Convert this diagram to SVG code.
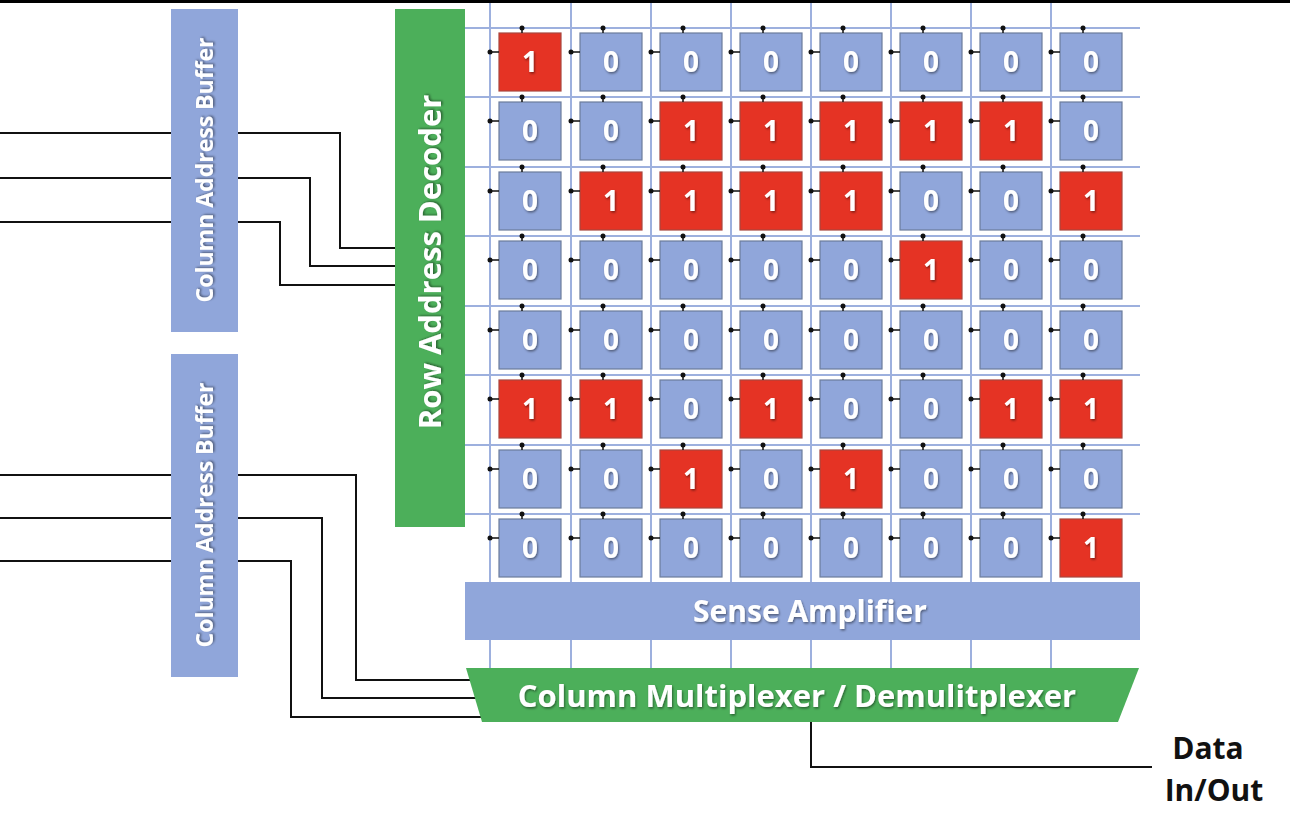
<svg xmlns="http://www.w3.org/2000/svg" width="1290" height="822" viewBox="0 0 1290 822">
<defs>
<filter id="sh" x="-20%" y="-20%" width="140%" height="140%"><feDropShadow dx="1" dy="1.5" stdDeviation="0.8" flood-color="#000" flood-opacity="0.45"/></filter>
</defs>
<style>
.g{stroke:#9db0de;stroke-width:2;fill:none}
.w{stroke:#111;stroke-width:2;fill:none}
.k{stroke:#111;stroke-width:1.5}
.b{fill:#90a6da;stroke:#6c7c9c;stroke-width:1.2}
.r{fill:#e53324;stroke:#a8463e;stroke-width:1.2}
.t{font-family:"Open Sans","Noto Sans",sans-serif;font-weight:bold;fill:#fff;filter:url(#sh)}
.n{font-size:28px;text-anchor:middle}
.d{fill:#111}
</style>
<rect width="1290" height="822" fill="#fff"/>
<rect width="1290" height="3" fill="#000"/>
<g id="grid">
<path class="g" d="M490 3V668M571 3V668M651 3V668M731 3V668M811 3V668M891 3V668M971 3V668M1051 3V668"/>
<path class="g" d="M465 28H1140M465 97H1140M465 167H1140M465 236H1140M465 306H1140M465 375H1140M465 445H1140M465 514H1140"/>
</g>
<g id="connectors">
<path class="w" d="M0 133H171M238 133H340V248H395M0 178H171M238 178H310V266H395M0 222H171M238 222H280V285H395"/>
<path class="w" d="M0 475H171M238 475H356V680H472M0 518H171M238 518H322V698H477M0 561H171M238 561H291V717H481"/>
<path class="w" d="M811 722V767H1152"/>
</g>
<g id="col-buffer-1"><rect x="171" y="9" width="67" height="323" fill="#90a6da"/><text class="t" font-size="23" transform="translate(213 170) rotate(-90)" text-anchor="middle">Column Address Buffer</text></g>
<g id="col-buffer-2"><rect x="171" y="354" width="67" height="323" fill="#90a6da"/><text class="t" font-size="23" transform="translate(213 515) rotate(-90)" text-anchor="middle">Column Address Buffer</text></g>
<g id="row-decoder"><rect x="395" y="9" width="70" height="518" fill="#4caf5a"/><text class="t" font-size="31" transform="translate(441 262) rotate(-90)" text-anchor="middle">Row Address Decoder</text></g>
<g id="sense-amplifier"><rect x="465" y="582" width="675" height="58" fill="#90a6da"/><text class="t" font-size="30" x="810" y="622" text-anchor="middle">Sense Amplifier</text></g>
<g id="column-mux"><polygon points="466,668 1139,668 1118,722 482,722" fill="#4caf5a"/><text class="t" font-size="31" x="797" y="707" text-anchor="middle">Column Multiplexer / Demulitplexer</text></g>
<g id="data-io" font-family="'Open Sans','Noto Sans',sans-serif" font-weight="bold" font-size="30" fill="#111" text-anchor="middle"><text x="1208" y="759">Data</text><text x="1214" y="801">In/Out</text></g>
<g id="cells">
<g id="r1">
<g transform="translate(490 28)"><rect class="r" x="9" y="5" width="62" height="58"/><path class="k" d="M32 0V5M0 24H9"/><circle class="d" cx="32" cy="0" r="2.5"/><circle class="d" cx="0" cy="24" r="2.5"/><text class="t n" x="40" y="44">1</text></g>
<g transform="translate(571 28)"><rect class="b" x="9" y="5" width="62" height="58"/><path class="k" d="M32 0V5M0 24H9"/><circle class="d" cx="32" cy="0" r="2.5"/><circle class="d" cx="0" cy="24" r="2.5"/><text class="t n" x="40" y="44">0</text></g>
<g transform="translate(651 28)"><rect class="b" x="9" y="5" width="62" height="58"/><path class="k" d="M32 0V5M0 24H9"/><circle class="d" cx="32" cy="0" r="2.5"/><circle class="d" cx="0" cy="24" r="2.5"/><text class="t n" x="40" y="44">0</text></g>
<g transform="translate(731 28)"><rect class="b" x="9" y="5" width="62" height="58"/><path class="k" d="M32 0V5M0 24H9"/><circle class="d" cx="32" cy="0" r="2.5"/><circle class="d" cx="0" cy="24" r="2.5"/><text class="t n" x="40" y="44">0</text></g>
<g transform="translate(811 28)"><rect class="b" x="9" y="5" width="62" height="58"/><path class="k" d="M32 0V5M0 24H9"/><circle class="d" cx="32" cy="0" r="2.5"/><circle class="d" cx="0" cy="24" r="2.5"/><text class="t n" x="40" y="44">0</text></g>
<g transform="translate(891 28)"><rect class="b" x="9" y="5" width="62" height="58"/><path class="k" d="M32 0V5M0 24H9"/><circle class="d" cx="32" cy="0" r="2.5"/><circle class="d" cx="0" cy="24" r="2.5"/><text class="t n" x="40" y="44">0</text></g>
<g transform="translate(971 28)"><rect class="b" x="9" y="5" width="62" height="58"/><path class="k" d="M32 0V5M0 24H9"/><circle class="d" cx="32" cy="0" r="2.5"/><circle class="d" cx="0" cy="24" r="2.5"/><text class="t n" x="40" y="44">0</text></g>
<g transform="translate(1051 28)"><rect class="b" x="9" y="5" width="62" height="58"/><path class="k" d="M32 0V5M0 24H9"/><circle class="d" cx="32" cy="0" r="2.5"/><circle class="d" cx="0" cy="24" r="2.5"/><text class="t n" x="40" y="44">0</text></g>
</g>
<g id="r2">
<g transform="translate(490 97)"><rect class="b" x="9" y="5" width="62" height="58"/><path class="k" d="M32 0V5M0 24H9"/><circle class="d" cx="32" cy="0" r="2.5"/><circle class="d" cx="0" cy="24" r="2.5"/><text class="t n" x="40" y="44">0</text></g>
<g transform="translate(571 97)"><rect class="b" x="9" y="5" width="62" height="58"/><path class="k" d="M32 0V5M0 24H9"/><circle class="d" cx="32" cy="0" r="2.5"/><circle class="d" cx="0" cy="24" r="2.5"/><text class="t n" x="40" y="44">0</text></g>
<g transform="translate(651 97)"><rect class="r" x="9" y="5" width="62" height="58"/><path class="k" d="M32 0V5M0 24H9"/><circle class="d" cx="32" cy="0" r="2.5"/><circle class="d" cx="0" cy="24" r="2.5"/><text class="t n" x="40" y="44">1</text></g>
<g transform="translate(731 97)"><rect class="r" x="9" y="5" width="62" height="58"/><path class="k" d="M32 0V5M0 24H9"/><circle class="d" cx="32" cy="0" r="2.5"/><circle class="d" cx="0" cy="24" r="2.5"/><text class="t n" x="40" y="44">1</text></g>
<g transform="translate(811 97)"><rect class="r" x="9" y="5" width="62" height="58"/><path class="k" d="M32 0V5M0 24H9"/><circle class="d" cx="32" cy="0" r="2.5"/><circle class="d" cx="0" cy="24" r="2.5"/><text class="t n" x="40" y="44">1</text></g>
<g transform="translate(891 97)"><rect class="r" x="9" y="5" width="62" height="58"/><path class="k" d="M32 0V5M0 24H9"/><circle class="d" cx="32" cy="0" r="2.5"/><circle class="d" cx="0" cy="24" r="2.5"/><text class="t n" x="40" y="44">1</text></g>
<g transform="translate(971 97)"><rect class="r" x="9" y="5" width="62" height="58"/><path class="k" d="M32 0V5M0 24H9"/><circle class="d" cx="32" cy="0" r="2.5"/><circle class="d" cx="0" cy="24" r="2.5"/><text class="t n" x="40" y="44">1</text></g>
<g transform="translate(1051 97)"><rect class="b" x="9" y="5" width="62" height="58"/><path class="k" d="M32 0V5M0 24H9"/><circle class="d" cx="32" cy="0" r="2.5"/><circle class="d" cx="0" cy="24" r="2.5"/><text class="t n" x="40" y="44">0</text></g>
</g>
<g id="r3">
<g transform="translate(490 167)"><rect class="b" x="9" y="5" width="62" height="58"/><path class="k" d="M32 0V5M0 24H9"/><circle class="d" cx="32" cy="0" r="2.5"/><circle class="d" cx="0" cy="24" r="2.5"/><text class="t n" x="40" y="44">0</text></g>
<g transform="translate(571 167)"><rect class="r" x="9" y="5" width="62" height="58"/><path class="k" d="M32 0V5M0 24H9"/><circle class="d" cx="32" cy="0" r="2.5"/><circle class="d" cx="0" cy="24" r="2.5"/><text class="t n" x="40" y="44">1</text></g>
<g transform="translate(651 167)"><rect class="r" x="9" y="5" width="62" height="58"/><path class="k" d="M32 0V5M0 24H9"/><circle class="d" cx="32" cy="0" r="2.5"/><circle class="d" cx="0" cy="24" r="2.5"/><text class="t n" x="40" y="44">1</text></g>
<g transform="translate(731 167)"><rect class="r" x="9" y="5" width="62" height="58"/><path class="k" d="M32 0V5M0 24H9"/><circle class="d" cx="32" cy="0" r="2.5"/><circle class="d" cx="0" cy="24" r="2.5"/><text class="t n" x="40" y="44">1</text></g>
<g transform="translate(811 167)"><rect class="r" x="9" y="5" width="62" height="58"/><path class="k" d="M32 0V5M0 24H9"/><circle class="d" cx="32" cy="0" r="2.5"/><circle class="d" cx="0" cy="24" r="2.5"/><text class="t n" x="40" y="44">1</text></g>
<g transform="translate(891 167)"><rect class="b" x="9" y="5" width="62" height="58"/><path class="k" d="M32 0V5M0 24H9"/><circle class="d" cx="32" cy="0" r="2.5"/><circle class="d" cx="0" cy="24" r="2.5"/><text class="t n" x="40" y="44">0</text></g>
<g transform="translate(971 167)"><rect class="b" x="9" y="5" width="62" height="58"/><path class="k" d="M32 0V5M0 24H9"/><circle class="d" cx="32" cy="0" r="2.5"/><circle class="d" cx="0" cy="24" r="2.5"/><text class="t n" x="40" y="44">0</text></g>
<g transform="translate(1051 167)"><rect class="r" x="9" y="5" width="62" height="58"/><path class="k" d="M32 0V5M0 24H9"/><circle class="d" cx="32" cy="0" r="2.5"/><circle class="d" cx="0" cy="24" r="2.5"/><text class="t n" x="40" y="44">1</text></g>
</g>
<g id="r4">
<g transform="translate(490 236)"><rect class="b" x="9" y="5" width="62" height="58"/><path class="k" d="M32 0V5M0 24H9"/><circle class="d" cx="32" cy="0" r="2.5"/><circle class="d" cx="0" cy="24" r="2.5"/><text class="t n" x="40" y="44">0</text></g>
<g transform="translate(571 236)"><rect class="b" x="9" y="5" width="62" height="58"/><path class="k" d="M32 0V5M0 24H9"/><circle class="d" cx="32" cy="0" r="2.5"/><circle class="d" cx="0" cy="24" r="2.5"/><text class="t n" x="40" y="44">0</text></g>
<g transform="translate(651 236)"><rect class="b" x="9" y="5" width="62" height="58"/><path class="k" d="M32 0V5M0 24H9"/><circle class="d" cx="32" cy="0" r="2.5"/><circle class="d" cx="0" cy="24" r="2.5"/><text class="t n" x="40" y="44">0</text></g>
<g transform="translate(731 236)"><rect class="b" x="9" y="5" width="62" height="58"/><path class="k" d="M32 0V5M0 24H9"/><circle class="d" cx="32" cy="0" r="2.5"/><circle class="d" cx="0" cy="24" r="2.5"/><text class="t n" x="40" y="44">0</text></g>
<g transform="translate(811 236)"><rect class="b" x="9" y="5" width="62" height="58"/><path class="k" d="M32 0V5M0 24H9"/><circle class="d" cx="32" cy="0" r="2.5"/><circle class="d" cx="0" cy="24" r="2.5"/><text class="t n" x="40" y="44">0</text></g>
<g transform="translate(891 236)"><rect class="r" x="9" y="5" width="62" height="58"/><path class="k" d="M32 0V5M0 24H9"/><circle class="d" cx="32" cy="0" r="2.5"/><circle class="d" cx="0" cy="24" r="2.5"/><text class="t n" x="40" y="44">1</text></g>
<g transform="translate(971 236)"><rect class="b" x="9" y="5" width="62" height="58"/><path class="k" d="M32 0V5M0 24H9"/><circle class="d" cx="32" cy="0" r="2.5"/><circle class="d" cx="0" cy="24" r="2.5"/><text class="t n" x="40" y="44">0</text></g>
<g transform="translate(1051 236)"><rect class="b" x="9" y="5" width="62" height="58"/><path class="k" d="M32 0V5M0 24H9"/><circle class="d" cx="32" cy="0" r="2.5"/><circle class="d" cx="0" cy="24" r="2.5"/><text class="t n" x="40" y="44">0</text></g>
</g>
<g id="r5">
<g transform="translate(490 306)"><rect class="b" x="9" y="5" width="62" height="58"/><path class="k" d="M32 0V5M0 24H9"/><circle class="d" cx="32" cy="0" r="2.5"/><circle class="d" cx="0" cy="24" r="2.5"/><text class="t n" x="40" y="44">0</text></g>
<g transform="translate(571 306)"><rect class="b" x="9" y="5" width="62" height="58"/><path class="k" d="M32 0V5M0 24H9"/><circle class="d" cx="32" cy="0" r="2.5"/><circle class="d" cx="0" cy="24" r="2.5"/><text class="t n" x="40" y="44">0</text></g>
<g transform="translate(651 306)"><rect class="b" x="9" y="5" width="62" height="58"/><path class="k" d="M32 0V5M0 24H9"/><circle class="d" cx="32" cy="0" r="2.5"/><circle class="d" cx="0" cy="24" r="2.5"/><text class="t n" x="40" y="44">0</text></g>
<g transform="translate(731 306)"><rect class="b" x="9" y="5" width="62" height="58"/><path class="k" d="M32 0V5M0 24H9"/><circle class="d" cx="32" cy="0" r="2.5"/><circle class="d" cx="0" cy="24" r="2.5"/><text class="t n" x="40" y="44">0</text></g>
<g transform="translate(811 306)"><rect class="b" x="9" y="5" width="62" height="58"/><path class="k" d="M32 0V5M0 24H9"/><circle class="d" cx="32" cy="0" r="2.5"/><circle class="d" cx="0" cy="24" r="2.5"/><text class="t n" x="40" y="44">0</text></g>
<g transform="translate(891 306)"><rect class="b" x="9" y="5" width="62" height="58"/><path class="k" d="M32 0V5M0 24H9"/><circle class="d" cx="32" cy="0" r="2.5"/><circle class="d" cx="0" cy="24" r="2.5"/><text class="t n" x="40" y="44">0</text></g>
<g transform="translate(971 306)"><rect class="b" x="9" y="5" width="62" height="58"/><path class="k" d="M32 0V5M0 24H9"/><circle class="d" cx="32" cy="0" r="2.5"/><circle class="d" cx="0" cy="24" r="2.5"/><text class="t n" x="40" y="44">0</text></g>
<g transform="translate(1051 306)"><rect class="b" x="9" y="5" width="62" height="58"/><path class="k" d="M32 0V5M0 24H9"/><circle class="d" cx="32" cy="0" r="2.5"/><circle class="d" cx="0" cy="24" r="2.5"/><text class="t n" x="40" y="44">0</text></g>
</g>
<g id="r6">
<g transform="translate(490 375)"><rect class="r" x="9" y="5" width="62" height="58"/><path class="k" d="M32 0V5M0 24H9"/><circle class="d" cx="32" cy="0" r="2.5"/><circle class="d" cx="0" cy="24" r="2.5"/><text class="t n" x="40" y="44">1</text></g>
<g transform="translate(571 375)"><rect class="r" x="9" y="5" width="62" height="58"/><path class="k" d="M32 0V5M0 24H9"/><circle class="d" cx="32" cy="0" r="2.5"/><circle class="d" cx="0" cy="24" r="2.5"/><text class="t n" x="40" y="44">1</text></g>
<g transform="translate(651 375)"><rect class="b" x="9" y="5" width="62" height="58"/><path class="k" d="M32 0V5M0 24H9"/><circle class="d" cx="32" cy="0" r="2.5"/><circle class="d" cx="0" cy="24" r="2.5"/><text class="t n" x="40" y="44">0</text></g>
<g transform="translate(731 375)"><rect class="r" x="9" y="5" width="62" height="58"/><path class="k" d="M32 0V5M0 24H9"/><circle class="d" cx="32" cy="0" r="2.5"/><circle class="d" cx="0" cy="24" r="2.5"/><text class="t n" x="40" y="44">1</text></g>
<g transform="translate(811 375)"><rect class="b" x="9" y="5" width="62" height="58"/><path class="k" d="M32 0V5M0 24H9"/><circle class="d" cx="32" cy="0" r="2.5"/><circle class="d" cx="0" cy="24" r="2.5"/><text class="t n" x="40" y="44">0</text></g>
<g transform="translate(891 375)"><rect class="b" x="9" y="5" width="62" height="58"/><path class="k" d="M32 0V5M0 24H9"/><circle class="d" cx="32" cy="0" r="2.5"/><circle class="d" cx="0" cy="24" r="2.5"/><text class="t n" x="40" y="44">0</text></g>
<g transform="translate(971 375)"><rect class="r" x="9" y="5" width="62" height="58"/><path class="k" d="M32 0V5M0 24H9"/><circle class="d" cx="32" cy="0" r="2.5"/><circle class="d" cx="0" cy="24" r="2.5"/><text class="t n" x="40" y="44">1</text></g>
<g transform="translate(1051 375)"><rect class="r" x="9" y="5" width="62" height="58"/><path class="k" d="M32 0V5M0 24H9"/><circle class="d" cx="32" cy="0" r="2.5"/><circle class="d" cx="0" cy="24" r="2.5"/><text class="t n" x="40" y="44">1</text></g>
</g>
<g id="r7">
<g transform="translate(490 445)"><rect class="b" x="9" y="5" width="62" height="58"/><path class="k" d="M32 0V5M0 24H9"/><circle class="d" cx="32" cy="0" r="2.5"/><circle class="d" cx="0" cy="24" r="2.5"/><text class="t n" x="40" y="44">0</text></g>
<g transform="translate(571 445)"><rect class="b" x="9" y="5" width="62" height="58"/><path class="k" d="M32 0V5M0 24H9"/><circle class="d" cx="32" cy="0" r="2.5"/><circle class="d" cx="0" cy="24" r="2.5"/><text class="t n" x="40" y="44">0</text></g>
<g transform="translate(651 445)"><rect class="r" x="9" y="5" width="62" height="58"/><path class="k" d="M32 0V5M0 24H9"/><circle class="d" cx="32" cy="0" r="2.5"/><circle class="d" cx="0" cy="24" r="2.5"/><text class="t n" x="40" y="44">1</text></g>
<g transform="translate(731 445)"><rect class="b" x="9" y="5" width="62" height="58"/><path class="k" d="M32 0V5M0 24H9"/><circle class="d" cx="32" cy="0" r="2.5"/><circle class="d" cx="0" cy="24" r="2.5"/><text class="t n" x="40" y="44">0</text></g>
<g transform="translate(811 445)"><rect class="r" x="9" y="5" width="62" height="58"/><path class="k" d="M32 0V5M0 24H9"/><circle class="d" cx="32" cy="0" r="2.5"/><circle class="d" cx="0" cy="24" r="2.5"/><text class="t n" x="40" y="44">1</text></g>
<g transform="translate(891 445)"><rect class="b" x="9" y="5" width="62" height="58"/><path class="k" d="M32 0V5M0 24H9"/><circle class="d" cx="32" cy="0" r="2.5"/><circle class="d" cx="0" cy="24" r="2.5"/><text class="t n" x="40" y="44">0</text></g>
<g transform="translate(971 445)"><rect class="b" x="9" y="5" width="62" height="58"/><path class="k" d="M32 0V5M0 24H9"/><circle class="d" cx="32" cy="0" r="2.5"/><circle class="d" cx="0" cy="24" r="2.5"/><text class="t n" x="40" y="44">0</text></g>
<g transform="translate(1051 445)"><rect class="b" x="9" y="5" width="62" height="58"/><path class="k" d="M32 0V5M0 24H9"/><circle class="d" cx="32" cy="0" r="2.5"/><circle class="d" cx="0" cy="24" r="2.5"/><text class="t n" x="40" y="44">0</text></g>
</g>
<g id="r8">
<g transform="translate(490 514)"><rect class="b" x="9" y="5" width="62" height="58"/><path class="k" d="M32 0V5M0 24H9"/><circle class="d" cx="32" cy="0" r="2.5"/><circle class="d" cx="0" cy="24" r="2.5"/><text class="t n" x="40" y="44">0</text></g>
<g transform="translate(571 514)"><rect class="b" x="9" y="5" width="62" height="58"/><path class="k" d="M32 0V5M0 24H9"/><circle class="d" cx="32" cy="0" r="2.5"/><circle class="d" cx="0" cy="24" r="2.5"/><text class="t n" x="40" y="44">0</text></g>
<g transform="translate(651 514)"><rect class="b" x="9" y="5" width="62" height="58"/><path class="k" d="M32 0V5M0 24H9"/><circle class="d" cx="32" cy="0" r="2.5"/><circle class="d" cx="0" cy="24" r="2.5"/><text class="t n" x="40" y="44">0</text></g>
<g transform="translate(731 514)"><rect class="b" x="9" y="5" width="62" height="58"/><path class="k" d="M32 0V5M0 24H9"/><circle class="d" cx="32" cy="0" r="2.5"/><circle class="d" cx="0" cy="24" r="2.5"/><text class="t n" x="40" y="44">0</text></g>
<g transform="translate(811 514)"><rect class="b" x="9" y="5" width="62" height="58"/><path class="k" d="M32 0V5M0 24H9"/><circle class="d" cx="32" cy="0" r="2.5"/><circle class="d" cx="0" cy="24" r="2.5"/><text class="t n" x="40" y="44">0</text></g>
<g transform="translate(891 514)"><rect class="b" x="9" y="5" width="62" height="58"/><path class="k" d="M32 0V5M0 24H9"/><circle class="d" cx="32" cy="0" r="2.5"/><circle class="d" cx="0" cy="24" r="2.5"/><text class="t n" x="40" y="44">0</text></g>
<g transform="translate(971 514)"><rect class="b" x="9" y="5" width="62" height="58"/><path class="k" d="M32 0V5M0 24H9"/><circle class="d" cx="32" cy="0" r="2.5"/><circle class="d" cx="0" cy="24" r="2.5"/><text class="t n" x="40" y="44">0</text></g>
<g transform="translate(1051 514)"><rect class="r" x="9" y="5" width="62" height="58"/><path class="k" d="M32 0V5M0 24H9"/><circle class="d" cx="32" cy="0" r="2.5"/><circle class="d" cx="0" cy="24" r="2.5"/><text class="t n" x="40" y="44">1</text></g>
</g>
</g>
</svg>
